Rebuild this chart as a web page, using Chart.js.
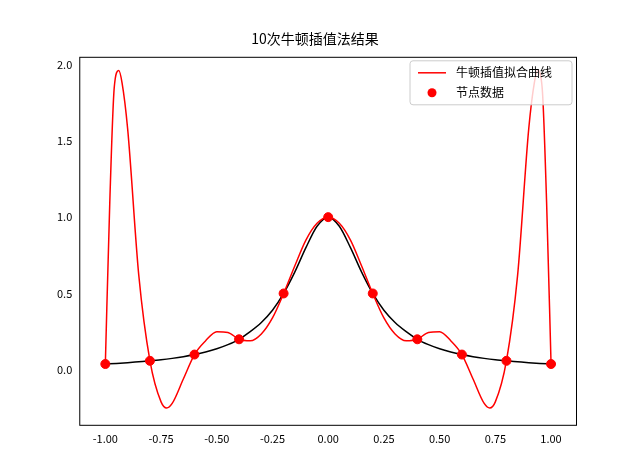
<!DOCTYPE html>
<html>
<head>
<meta charset="utf-8">
<script src="https://cdn.jsdelivr.net/npm/chart.js@4"></script>
<style>
  body { margin: 0; background: #fff; }
  #wrap { width: 640px; height: 476px; }
</style>
</head>
<body>
<div id="wrap"><canvas id="c"></canvas></div>
<script>
const titleText = '10次牛顿插值法结果';
const fitLabel = '牛顿插值拟合曲线';
const nodeLabel = '节点数据';

const fitX = [-1.0, -0.98, -0.96, -0.94, -0.925, -0.9, -0.85, -0.8, -0.75, -0.725, -0.7, -0.65, -0.6, -0.55, -0.5, -0.45, -0.4, -0.35, -0.3, -0.25, -0.2, -0.15, -0.1, -0.05,
              0, 0.05, 0.1, 0.15, 0.2, 0.25, 0.3, 0.35, 0.4, 0.45, 0.5, 0.55, 0.6, 0.65, 0.7, 0.725, 0.75, 0.8, 0.85, 0.9, 0.925, 0.94, 0.96, 0.98, 1.0];
const fitY = [0.04, 1.1, 1.85, 1.96, 1.88, 1.58, 0.62, 0.06, -0.21, -0.25, -0.22, -0.06, 0.1, 0.19, 0.25, 0.245, 0.2, 0.19, 0.235, 0.34, 0.5, 0.68, 0.85, 0.96,
              1.0, 0.96, 0.85, 0.68, 0.5, 0.34, 0.235, 0.19, 0.2, 0.245, 0.25, 0.19, 0.1, -0.06, -0.22, -0.25, -0.21, 0.06, 0.62, 1.58, 1.88, 1.96, 1.85, 1.1, 0.04];

const trueX = [-1.0, -0.95, -0.9, -0.85, -0.8, -0.75, -0.7, -0.65, -0.6, -0.55, -0.5, -0.45, -0.4, -0.35, -0.3, -0.25, -0.2, -0.15, -0.1, -0.05,
               0, 0.05, 0.1, 0.15, 0.2, 0.25, 0.3, 0.35, 0.4, 0.45, 0.5, 0.55, 0.6, 0.65, 0.7, 0.75, 0.8, 0.85, 0.9, 0.95, 1.0];
const trueY = [0.038, 0.042, 0.047, 0.053, 0.059, 0.066, 0.075, 0.086, 0.1, 0.117, 0.138, 0.165, 0.2, 0.25, 0.31, 0.39, 0.5, 0.64, 0.8, 0.94,
               1.0, 0.94, 0.8, 0.64, 0.5, 0.39, 0.31, 0.25, 0.2, 0.165, 0.138, 0.117, 0.1, 0.086, 0.075, 0.066, 0.059, 0.053, 0.047, 0.042, 0.038];

const nodeX = [-1.0, -0.8, -0.6, -0.4, -0.2, 0, 0.2, 0.4, 0.6, 0.8, 1.0];
const nodeY = [0.038, 0.059, 0.1, 0.2, 0.5, 1.0, 0.5, 0.2, 0.1, 0.059, 0.038];

const xTicks = [-1.0, -0.75, -0.5, -0.25, 0, 0.25, 0.5, 0.75, 1.0];
const yTicks = [0, 0.5, 1.0, 1.5, 2.0];

const pts = (xs, ys) => xs.map((x, i) => ({ x: x, y: ys[i] }));
const FONT = '"Noto Sans CJK SC", "DejaVu Sans", sans-serif';

const frame = {
  id: 'frame',
  afterDraw(chart) {
    const { ctx, chartArea: a } = chart;
    ctx.save();
    ctx.strokeStyle = '#000';
    ctx.lineWidth = 1;
    ctx.strokeRect(a.left + 0.5, a.top + 0.5, a.right - a.left, a.bottom - a.top);
    // legend
    const w = 162, h = 44, lx = a.right - w - 4, ly = a.top + 4;
    ctx.fillStyle = 'rgba(255,255,255,0.8)';
    ctx.strokeStyle = '#ccc';
    ctx.beginPath();
    ctx.roundRect(lx, ly, w, h, 3);
    ctx.fill(); ctx.stroke();
    ctx.font = '12px ' + FONT;
    ctx.textBaseline = 'middle';
    ctx.fillStyle = '#000';
    ctx.strokeStyle = 'red';
    ctx.lineWidth = 1.5;
    ctx.beginPath(); ctx.moveTo(lx + 8, ly + 12); ctx.lineTo(lx + 36, ly + 12); ctx.stroke();
    ctx.fillText(fitLabel, lx + 46, ly + 12);
    ctx.fillStyle = 'red';
    ctx.beginPath(); ctx.arc(lx + 22, ly + 32, 4.5, 0, Math.PI * 2); ctx.fill();
    ctx.fillStyle = '#000';
    ctx.fillText(nodeLabel, lx + 46, ly + 32);
    ctx.restore();
  }
};

new Chart(document.getElementById('c'), {
  type: 'scatter',
  data: {
    datasets: [
      { label: nodeLabel, data: pts(nodeX, nodeY), showLine: false, pointRadius: 4.5,
        backgroundColor: 'red', borderColor: 'red', order: 0 },
      { label: 'f', data: pts(trueX, trueY), showLine: true, pointRadius: 0,
        borderColor: '#000', borderWidth: 1.5, cubicInterpolationMode: 'monotone', order: 2 },
      { label: fitLabel, data: pts(fitX, fitY), showLine: true, pointRadius: 0,
        borderColor: 'red', borderWidth: 1.5, cubicInterpolationMode: 'monotone', order: 1 }
    ]
  },
  options: {
    responsive: true,
    maintainAspectRatio: false,
    animation: false,
    layout: { padding: { left: 54, right: 64, top: 0, bottom: 28 } },
    plugins: {
      legend: { display: false },
      tooltip: { enabled: false },
      title: { display: true, text: titleText, color: '#000',
        font: { family: FONT, size: 14, weight: 'normal' }, padding: { top: 30, bottom: 10 } }
    },
    scales: {
      x: {
        type: 'linear', min: -1.117, max: 1.112,
        grid: { display: false, drawTicks: true, tickLength: 4, tickColor: '#000' },
        border: { display: false },
        afterBuildTicks: s => { s.ticks = xTicks.map(v => ({ value: v })); },
        ticks: { color: '#000', font: { family: FONT, size: 11 },
          callback: v => v.toFixed(2) }
      },
      y: {
        min: -0.36, max: 2.05,
        grid: { display: false, tickLength: 4, tickColor: '#000' },
        border: { display: false },
        afterBuildTicks: s => { s.ticks = yTicks.map(v => ({ value: v })); },
        ticks: { color: '#000', font: { family: FONT, size: 11 },
          callback: v => v.toFixed(1) }
      }
    }
  },
  plugins: [frame]
});
</script>
</body>
</html>
